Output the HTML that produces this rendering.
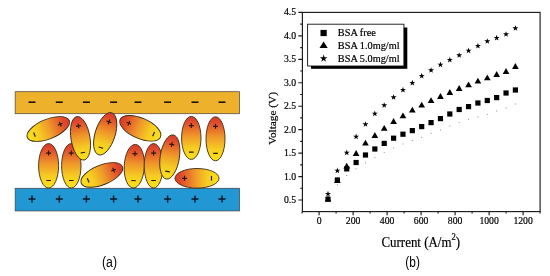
<!DOCTYPE html>
<html><head><meta charset="utf-8"><title>Figure</title>
<style>
html,body{margin:0;padding:0;background:#fff;}
body{width:550px;height:276px;overflow:hidden;}
svg{display:block;}
text{fill:#000;}
.ser{font-family:"Liberation Serif",serif;stroke:#000;stroke-width:0.2px;}
.san{font-family:"Liberation Sans",sans-serif;}
</style></head><body>
<svg width="550" height="276" viewBox="0 0 550 276">
<defs>
<linearGradient id="g" x1="0" y1="0" x2="0" y2="1">
<stop offset="0" stop-color="#d93c2b"/>
<stop offset="0.12" stop-color="#df482b"/>
<stop offset="0.46" stop-color="#ef982a"/>
<stop offset="0.73" stop-color="#f6cc22"/>
<stop offset="1" stop-color="#f9e21a"/>
</linearGradient>
</defs>
<rect width="550" height="276" fill="#fff"/>

<rect x="15.2" y="91.7" width="224.2" height="22" fill="#edb12c" stroke="#5a5040" stroke-width="0.8"/>
<rect x="15.2" y="188.3" width="224.2" height="22.6" fill="#2197d3" stroke="#3a4a55" stroke-width="0.8"/>
<path d="M28.5 102.2h7" stroke="#1a1408" stroke-width="1.55" fill="none"/>
<path d="M28.5 198.9h7M32 195.4v7" stroke="#0c1a24" stroke-width="1.45" fill="none"/>
<path d="M55.8 102.2h7" stroke="#1a1408" stroke-width="1.55" fill="none"/>
<path d="M55.8 198.9h7M59.3 195.4v7" stroke="#0c1a24" stroke-width="1.45" fill="none"/>
<path d="M82.9 102.2h7" stroke="#1a1408" stroke-width="1.55" fill="none"/>
<path d="M82.9 198.9h7M86.4 195.4v7" stroke="#0c1a24" stroke-width="1.45" fill="none"/>
<path d="M110.1 102.2h7" stroke="#1a1408" stroke-width="1.55" fill="none"/>
<path d="M110.1 198.9h7M113.6 195.4v7" stroke="#0c1a24" stroke-width="1.45" fill="none"/>
<path d="M134.5 102.2h7" stroke="#1a1408" stroke-width="1.55" fill="none"/>
<path d="M134.5 198.9h7M138 195.4v7" stroke="#0c1a24" stroke-width="1.45" fill="none"/>
<path d="M164.1 102.2h7" stroke="#1a1408" stroke-width="1.55" fill="none"/>
<path d="M164.1 198.9h7M167.6 195.4v7" stroke="#0c1a24" stroke-width="1.45" fill="none"/>
<path d="M191.5 102.2h7" stroke="#1a1408" stroke-width="1.55" fill="none"/>
<path d="M191.5 198.9h7M195 195.4v7" stroke="#0c1a24" stroke-width="1.45" fill="none"/>
<path d="M218.5 102.2h7" stroke="#1a1408" stroke-width="1.55" fill="none"/>
<path d="M218.5 198.9h7M222 195.4v7" stroke="#0c1a24" stroke-width="1.45" fill="none"/>
<g transform="translate(71.3 165.8) rotate(0)"><ellipse rx="9.7" ry="22.2" fill="url(#g)" stroke="#3d2a12" stroke-width="0.9"/><path d="M-2.5 -12.7h5M0 -15.2v5M-2.3 14.7h4.6" stroke="#2a1608" stroke-width="1.15" fill="none"/></g>
<g transform="translate(48.6 165.8) rotate(0)"><ellipse rx="10" ry="22.2" fill="url(#g)" stroke="#3d2a12" stroke-width="0.9"/><path d="M-2.5 -12.7h5M0 -15.2v5M-2.3 14.7h4.6" stroke="#2a1608" stroke-width="1.15" fill="none"/></g>
<g transform="translate(48.3 129.0) rotate(68)"><ellipse rx="9.8" ry="22.6" fill="url(#g)" stroke="#3d2a12" stroke-width="0.9"/><path d="M-2.5 -12.9h5M0 -15.4v5M-2.3 14.9h4.6" stroke="#2a1608" stroke-width="1.15" fill="none"/></g>
<g transform="translate(80.5 138.3) rotate(-9.5)"><ellipse rx="9.5" ry="22" fill="url(#g)" stroke="#3d2a12" stroke-width="0.9"/><path d="M-2.5 -12.5h5M0 -15.0v5M-2.3 14.5h4.6" stroke="#2a1608" stroke-width="1.15" fill="none"/></g>
<g transform="translate(105.2 133.8) rotate(17.5)"><ellipse rx="10" ry="22" fill="url(#g)" stroke="#3d2a12" stroke-width="0.9"/><path d="M-2.5 -12.5h5M0 -15.0v5M-2.3 14.5h4.6" stroke="#2a1608" stroke-width="1.15" fill="none"/></g>
<g transform="translate(101.8 174.9) rotate(68)"><ellipse rx="9.8" ry="22.2" fill="url(#g)" stroke="#3d2a12" stroke-width="0.9"/><path d="M-2.5 -12.7h5M0 -15.2v5M-2.3 14.7h4.6" stroke="#2a1608" stroke-width="1.15" fill="none"/></g>
<g transform="translate(134.3 166.2) rotate(3)"><ellipse rx="10.1" ry="21.8" fill="url(#g)" stroke="#3d2a12" stroke-width="0.9"/><path d="M-2.5 -12.4h5M0 -14.9v5M-2.3 14.4h4.6" stroke="#2a1608" stroke-width="1.15" fill="none"/></g>
<g transform="translate(153.6 165.8) rotate(0)"><ellipse rx="9.4" ry="22.2" fill="url(#g)" stroke="#3d2a12" stroke-width="0.9"/><path d="M-2.5 -12.7h5M0 -15.2v5M-2.3 14.7h4.6" stroke="#2a1608" stroke-width="1.15" fill="none"/></g>
<g transform="translate(169.8 157) rotate(9)"><ellipse rx="9.6" ry="22.3" fill="url(#g)" stroke="#3d2a12" stroke-width="0.9"/><path d="M-2.5 -12.7h5M0 -15.2v5M-2.3 14.7h4.6" stroke="#2a1608" stroke-width="1.15" fill="none"/></g>
<g transform="translate(191.3 137.9) rotate(0)"><ellipse rx="9.7" ry="21.5" fill="url(#g)" stroke="#3d2a12" stroke-width="0.9"/><path d="M-2.5 -12.3h5M0 -14.8v5M-2.3 14.2h4.6" stroke="#2a1608" stroke-width="1.15" fill="none"/></g>
<g transform="translate(215.5 138.8) rotate(0)"><ellipse rx="9.5" ry="22" fill="url(#g)" stroke="#3d2a12" stroke-width="0.9"/><path d="M-2.5 -12.5h5M0 -15.0v5M-2.3 14.5h4.6" stroke="#2a1608" stroke-width="1.15" fill="none"/></g>
<g transform="translate(140.3 128.3) rotate(-66.5)"><ellipse rx="10.2" ry="22" fill="url(#g)" stroke="#3d2a12" stroke-width="0.9"/><path d="M-2.5 -12.5h5M0 -15.0v5M-2.3 14.5h4.6" stroke="#2a1608" stroke-width="1.15" fill="none"/></g>
<g transform="translate(197 178.3) rotate(-90)"><ellipse rx="9.8" ry="22" fill="url(#g)" stroke="#3d2a12" stroke-width="0.9"/><path d="M-2.5 -12.5h5M0 -15.0v5M-2.3 14.5h4.6" stroke="#2a1608" stroke-width="1.15" fill="none"/></g>
<text class="san" x="109.5" y="266.7" font-size="14" text-anchor="middle" textLength="15" lengthAdjust="spacingAndGlyphs">(a)</text>
<text class="san" x="412.6" y="266.5" font-size="14" text-anchor="middle" textLength="14.5" lengthAdjust="spacingAndGlyphs">(b)</text>
<rect x="302.4" y="12.4" width="237.70000000000005" height="199.2" fill="none" stroke="#1a1a1a" stroke-width="1.15"/>
<text class="ser" x="296" y="203.00" font-size="9.7" text-anchor="end">0.5</text>
<text class="ser" x="296" y="179.55" font-size="9.7" text-anchor="end">1.0</text>
<text class="ser" x="296" y="156.10" font-size="9.7" text-anchor="end">1.5</text>
<text class="ser" x="296" y="132.65" font-size="9.7" text-anchor="end">2.0</text>
<text class="ser" x="296" y="109.20" font-size="9.7" text-anchor="end">2.5</text>
<text class="ser" x="296" y="85.75" font-size="9.7" text-anchor="end">3.0</text>
<text class="ser" x="296" y="62.30" font-size="9.7" text-anchor="end">3.5</text>
<text class="ser" x="296" y="38.85" font-size="9.7" text-anchor="end">4.0</text>
<text class="ser" x="296" y="15.40" font-size="9.7" text-anchor="end">4.5</text>
<text class="ser" x="319.10" y="224.4" font-size="9.7" text-anchor="middle">0</text>
<text class="ser" x="353.10" y="224.4" font-size="9.7" text-anchor="middle">200</text>
<text class="ser" x="387.10" y="224.4" font-size="9.7" text-anchor="middle">400</text>
<text class="ser" x="421.10" y="224.4" font-size="9.7" text-anchor="middle">600</text>
<text class="ser" x="455.10" y="224.4" font-size="9.7" text-anchor="middle">800</text>
<text class="ser" x="489.10" y="224.4" font-size="9.7" text-anchor="middle">1000</text>
<text class="ser" x="523.10" y="224.4" font-size="9.7" text-anchor="middle">1200</text>
<path d="M302.4 200.00h-4 M302.4 176.55h-4 M302.4 153.10h-4 M302.4 129.65h-4 M302.4 106.20h-4 M302.4 82.75h-4 M302.4 59.30h-4 M302.4 35.85h-4 M302.4 12.40h-4 M302.4 188.28h-2.2 M302.4 164.82h-2.2 M302.4 141.38h-2.2 M302.4 117.92h-2.2 M302.4 94.48h-2.2 M302.4 71.03h-2.2 M302.4 47.58h-2.2 M302.4 24.12h-2.2 M319.10 211.6v3.6 M353.10 211.6v3.6 M387.10 211.6v3.6 M421.10 211.6v3.6 M455.10 211.6v3.6 M489.10 211.6v3.6 M523.10 211.6v3.6 M302.10 211.6v2 M336.10 211.6v2 M370.10 211.6v2 M404.10 211.6v2 M438.10 211.6v2 M472.10 211.6v2 M506.10 211.6v2 M540.10 211.6v2" stroke="#1a1a1a" stroke-width="1.15" fill="none"/>
<text class="ser" transform="translate(381.4 247) scale(0.9 1)" font-size="14.4">Current (A/m<tspan dy="-6.8" font-size="9.6">2</tspan><tspan dy="6.8">)</tspan></text>
<text class="ser" transform="translate(276.2 144.8) rotate(-90)" font-size="11.3">Voltage (V)</text>
<rect x="311" y="27.5" width="96.3" height="41.3" fill="#000"/>
<rect x="307.6" y="24.2" width="96.3" height="41.8" fill="#fff" stroke="#111" stroke-width="0.9"/>
<rect x="320.50" y="29.90" width="6.2" height="6.2" fill="#000"/>
<path d="M323.60 41.50L327.70 48.10H319.50Z" fill="#000"/>
<polygon points="323.60,54.50 324.51,57.25 327.40,57.26 325.07,58.98 325.95,61.74 323.60,60.05 321.25,61.74 322.13,58.98 319.80,57.26 322.69,57.25" fill="#000"/>
<text class="ser" x="337.8" y="36.1" font-size="10.3">BSA free</text>
<text class="ser" x="337.8" y="48.8" font-size="10.3">BSA 1.0mg/ml</text>
<text class="ser" x="337.8" y="61.5" font-size="10.3">BSA 5.0mg/ml</text>
<rect x="327.50" y="200.50" width="1" height="1" fill="#909090"/>
<rect x="336.87" y="184.30" width="1" height="1" fill="#909090"/>
<rect x="346.24" y="175.00" width="1" height="1" fill="#909090"/>
<rect x="355.61" y="168.30" width="1" height="1" fill="#909090"/>
<rect x="364.98" y="162.30" width="1" height="1" fill="#909090"/>
<rect x="374.35" y="157.10" width="1" height="1" fill="#909090"/>
<rect x="383.72" y="151.90" width="1" height="1" fill="#909090"/>
<rect x="393.09" y="147.50" width="1" height="1" fill="#909090"/>
<rect x="402.46" y="143.50" width="1" height="1" fill="#909090"/>
<rect x="411.83" y="140.10" width="1" height="1" fill="#909090"/>
<rect x="421.20" y="136.90" width="1" height="1" fill="#909090"/>
<rect x="430.57" y="132.90" width="1" height="1" fill="#909090"/>
<rect x="439.94" y="129.50" width="1" height="1" fill="#909090"/>
<rect x="449.31" y="125.50" width="1" height="1" fill="#909090"/>
<rect x="458.68" y="122.10" width="1" height="1" fill="#909090"/>
<rect x="468.05" y="118.90" width="1" height="1" fill="#909090"/>
<rect x="477.42" y="116.50" width="1" height="1" fill="#909090"/>
<rect x="486.79" y="113.90" width="1" height="1" fill="#909090"/>
<rect x="496.16" y="110.50" width="1" height="1" fill="#909090"/>
<rect x="505.53" y="107.50" width="1" height="1" fill="#909090"/>
<rect x="514.90" y="103.50" width="1" height="1" fill="#909090"/>
<rect x="325.40" y="196.60" width="5.2" height="5.2" fill="#000"/>
<rect x="334.77" y="177.40" width="5.2" height="5.2" fill="#000"/>
<rect x="344.14" y="166.30" width="5.2" height="5.2" fill="#000"/>
<rect x="353.51" y="159.90" width="5.2" height="5.2" fill="#000"/>
<rect x="362.88" y="152.40" width="5.2" height="5.2" fill="#000"/>
<rect x="372.25" y="146.40" width="5.2" height="5.2" fill="#000"/>
<rect x="381.62" y="140.80" width="5.2" height="5.2" fill="#000"/>
<rect x="390.99" y="135.60" width="5.2" height="5.2" fill="#000"/>
<rect x="400.36" y="131.60" width="5.2" height="5.2" fill="#000"/>
<rect x="409.73" y="128.00" width="5.2" height="5.2" fill="#000"/>
<rect x="419.10" y="124.00" width="5.2" height="5.2" fill="#000"/>
<rect x="428.47" y="120.00" width="5.2" height="5.2" fill="#000"/>
<rect x="437.84" y="116.00" width="5.2" height="5.2" fill="#000"/>
<rect x="447.21" y="111.40" width="5.2" height="5.2" fill="#000"/>
<rect x="456.58" y="106.90" width="5.2" height="5.2" fill="#000"/>
<rect x="465.95" y="104.00" width="5.2" height="5.2" fill="#000"/>
<rect x="475.32" y="100.40" width="5.2" height="5.2" fill="#000"/>
<rect x="484.69" y="97.90" width="5.2" height="5.2" fill="#000"/>
<rect x="494.06" y="95.00" width="5.2" height="5.2" fill="#000"/>
<rect x="503.43" y="90.40" width="5.2" height="5.2" fill="#000"/>
<rect x="512.80" y="87.40" width="5.2" height="5.2" fill="#000"/>
<path d="M328.00 195.70L331.35 201.50H324.65Z" fill="#000"/>
<path d="M337.37 177.30L340.72 183.10H334.02Z" fill="#000"/>
<path d="M346.74 162.70L350.09 168.50H343.39Z" fill="#000"/>
<path d="M356.11 150.10L359.46 155.90H352.76Z" fill="#000"/>
<path d="M365.48 139.70L368.83 145.50H362.13Z" fill="#000"/>
<path d="M374.85 132.10L378.20 137.90H371.50Z" fill="#000"/>
<path d="M384.22 124.90L387.57 130.70H380.87Z" fill="#000"/>
<path d="M393.59 118.10L396.94 123.90H390.24Z" fill="#000"/>
<path d="M402.96 112.50L406.31 118.30H399.61Z" fill="#000"/>
<path d="M412.33 106.70L415.68 112.50H408.98Z" fill="#000"/>
<path d="M421.70 101.70L425.05 107.50H418.35Z" fill="#000"/>
<path d="M431.07 97.30L434.42 103.10H427.72Z" fill="#000"/>
<path d="M440.44 93.10L443.79 98.90H437.09Z" fill="#000"/>
<path d="M449.81 89.10L453.16 94.90H446.46Z" fill="#000"/>
<path d="M459.18 85.10L462.53 90.90H455.83Z" fill="#000"/>
<path d="M468.55 81.50L471.90 87.30H465.20Z" fill="#000"/>
<path d="M477.92 77.70L481.27 83.50H474.57Z" fill="#000"/>
<path d="M487.29 74.50L490.64 80.30H483.94Z" fill="#000"/>
<path d="M496.66 71.10L500.01 76.90H493.31Z" fill="#000"/>
<path d="M506.03 68.10L509.38 73.90H502.68Z" fill="#000"/>
<path d="M515.40 63.10L518.75 68.90H512.05Z" fill="#000"/>
<polygon points="328.00,190.75 328.73,192.89 331.00,192.93 329.19,194.29 329.85,196.45 328.00,195.15 326.15,196.45 326.81,194.29 325.00,192.93 327.27,192.89" fill="#000"/>
<polygon points="337.37,167.55 338.10,169.69 340.37,169.73 338.56,171.09 339.22,173.25 337.37,171.95 335.52,173.25 336.18,171.09 334.37,169.73 336.64,169.69" fill="#000"/>
<polygon points="346.74,149.55 347.47,151.69 349.74,151.73 347.93,153.09 348.59,155.25 346.74,153.95 344.89,155.25 345.55,153.09 343.74,151.73 346.01,151.69" fill="#000"/>
<polygon points="356.11,133.55 356.84,135.69 359.11,135.73 357.30,137.09 357.96,139.25 356.11,137.95 354.26,139.25 354.92,137.09 353.11,135.73 355.38,135.69" fill="#000"/>
<polygon points="365.48,121.15 366.21,123.29 368.48,123.33 366.67,124.69 367.33,126.85 365.48,125.55 363.63,126.85 364.29,124.69 362.48,123.33 364.75,123.29" fill="#000"/>
<polygon points="374.85,110.55 375.58,112.69 377.85,112.73 376.04,114.09 376.70,116.25 374.85,114.95 373.00,116.25 373.66,114.09 371.85,112.73 374.12,112.69" fill="#000"/>
<polygon points="384.22,102.15 384.95,104.29 387.22,104.33 385.41,105.69 386.07,107.85 384.22,106.55 382.37,107.85 383.03,105.69 381.22,104.33 383.49,104.29" fill="#000"/>
<polygon points="393.59,94.15 394.32,96.29 396.59,96.33 394.78,97.69 395.44,99.85 393.59,98.55 391.74,99.85 392.40,97.69 390.59,96.33 392.86,96.29" fill="#000"/>
<polygon points="402.96,86.75 403.69,88.89 405.96,88.93 404.15,90.29 404.81,92.45 402.96,91.15 401.11,92.45 401.77,90.29 399.96,88.93 402.23,88.89" fill="#000"/>
<polygon points="412.33,79.75 413.06,81.89 415.33,81.93 413.52,83.29 414.18,85.45 412.33,84.15 410.48,85.45 411.14,83.29 409.33,81.93 411.60,81.89" fill="#000"/>
<polygon points="421.70,72.75 422.43,74.89 424.70,74.93 422.89,76.29 423.55,78.45 421.70,77.15 419.85,78.45 420.51,76.29 418.70,74.93 420.97,74.89" fill="#000"/>
<polygon points="431.07,67.15 431.80,69.29 434.07,69.33 432.26,70.69 432.92,72.85 431.07,71.55 429.22,72.85 429.88,70.69 428.07,69.33 430.34,69.29" fill="#000"/>
<polygon points="440.44,61.55 441.17,63.69 443.44,63.73 441.63,65.09 442.29,67.25 440.44,65.95 438.59,67.25 439.25,65.09 437.44,63.73 439.71,63.69" fill="#000"/>
<polygon points="449.81,56.75 450.54,58.89 452.81,58.93 451.00,60.29 451.66,62.45 449.81,61.15 447.96,62.45 448.62,60.29 446.81,58.93 449.08,58.89" fill="#000"/>
<polygon points="459.18,52.15 459.91,54.29 462.18,54.33 460.37,55.69 461.03,57.85 459.18,56.55 457.33,57.85 457.99,55.69 456.18,54.33 458.45,54.29" fill="#000"/>
<polygon points="468.55,47.55 469.28,49.69 471.55,49.73 469.74,51.09 470.40,53.25 468.55,51.95 466.70,53.25 467.36,51.09 465.55,49.73 467.82,49.69" fill="#000"/>
<polygon points="477.92,42.75 478.65,44.89 480.92,44.93 479.11,46.29 479.77,48.45 477.92,47.15 476.07,48.45 476.73,46.29 474.92,44.93 477.19,44.89" fill="#000"/>
<polygon points="487.29,38.15 488.02,40.29 490.29,40.33 488.48,41.69 489.14,43.85 487.29,42.55 485.44,43.85 486.10,41.69 484.29,40.33 486.56,40.29" fill="#000"/>
<polygon points="496.66,34.75 497.39,36.89 499.66,36.93 497.85,38.29 498.51,40.45 496.66,39.15 494.81,40.45 495.47,38.29 493.66,36.93 495.93,36.89" fill="#000"/>
<polygon points="506.03,31.15 506.76,33.29 509.03,33.33 507.22,34.69 507.88,36.85 506.03,35.55 504.18,36.85 504.84,34.69 503.03,33.33 505.30,33.29" fill="#000"/>
<polygon points="515.40,25.15 516.13,27.29 518.40,27.33 516.59,28.69 517.25,30.85 515.40,29.55 513.55,30.85 514.21,28.69 512.40,27.33 514.67,27.29" fill="#000"/>
</svg></body></html>
